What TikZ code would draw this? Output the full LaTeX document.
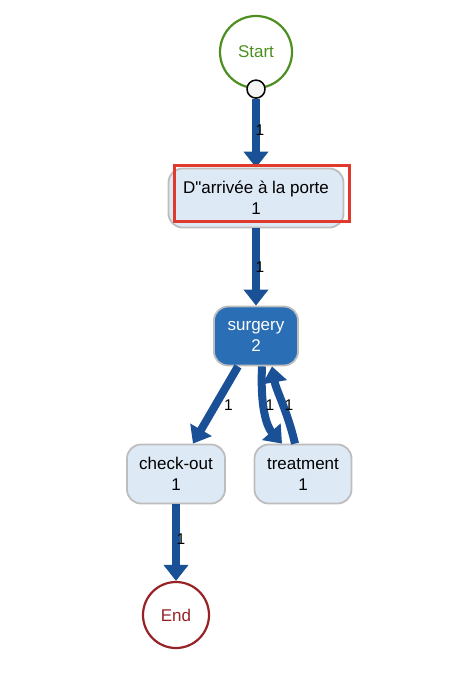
\documentclass[tikz,border=0pt]{standalone}
\usepackage{fontspec}
\setmainfont{Liberation Sans}
\usetikzlibrary{arrows.meta}
\definecolor{flowblue}{HTML}{1A5096}
\definecolor{boxfill}{HTML}{DEE9F6}
\definecolor{boxline}{HTML}{BDBDBD}
\definecolor{busyfill}{HTML}{2A6EB6}
\definecolor{startgreen}{HTML}{4E9020}
\definecolor{endred}{HTML}{962226}
\definecolor{marked}{HTML}{E0392D}
\tikzset{
  activity/.style={draw=boxline, line width=1.8pt, fill=boxfill, rounded corners=14pt,
    minimum height=59pt, align=center, font=\fontsize{17}{21}\selectfont},
  terminal/.style={circle, line width=2.2pt, fill=white, minimum size=72pt,
    font=\fontsize{17}{20}\selectfont},
  flow/.style={draw=flowblue, line width=8pt, -{Triangle[width=24pt,length=16pt]}},
  cnt/.style={font=\fontsize{15.5}{18}\selectfont, inner sep=1pt}
}
\begin{document}
\begin{tikzpicture}[x=1pt, y=-1pt]
    \useasboundingbox (0,0) rectangle (474,685);
    % Inicio y fin
    \node[terminal, draw=startgreen, text=startgreen] (start) at (256,52) {Start};
    \node[terminal, draw=endred, text=endred, minimum size=66pt] (finish) at (176,615) {End};
    % Actividades
    \node[activity, minimum width=175pt] (arrival) at (256,198) {D\textquotedbl arrivée à la porte\\1};
    \node[activity, minimum width=84pt, fill=busyfill, text=white] (surgery) at (256,336) {surgery\\2};
    \node[activity, minimum width=98pt] (checkout) at (176,474) {check-out\\1};
    \node[activity, minimum width=97pt] (treatment) at (303,474) {treatment\\1};
    % Punto de salida del inicio
    \node[circle, draw=black, line width=1.5pt, fill=gray!8, minimum size=18pt, inner sep=0pt]
      (startdot) at (start.south) {};
    % Flujos
    \draw[flow] (startdot.south) -- (arrival.north)
      node[cnt, pos=0.45, xshift=4pt] {1};
    \draw[flow] (arrival.south) -- (surgery.north)
      node[cnt, pos=0.5, xshift=4pt] {1};
    \draw[flow] ([xshift=-18pt]surgery.south) -- ([xshift=17pt]checkout.north)
      node[cnt, pos=0.5, xshift=13pt] {1};
    \draw[flow] ([xshift=6pt]surgery.south) .. controls (260,412) and (268,428) ..
      ([xshift=-21pt]treatment.north);
    \draw[flow] ([xshift=-8pt]treatment.north) .. controls (287,410) and (276,390) ..
      ([xshift=16pt]surgery.south);
    \node[cnt] (lbltreat) at (270,405) {1};
    \node[cnt] (lblback) at (289,405) {1};
    \draw[flow] (checkout.south) -- (finish.north)
      node[cnt, pos=0.45, xshift=5pt] {1};
    % Marco de selección
    \draw[marked, line width=3pt] (174,165) rectangle (349,221);
\end{tikzpicture}
\end{document}
